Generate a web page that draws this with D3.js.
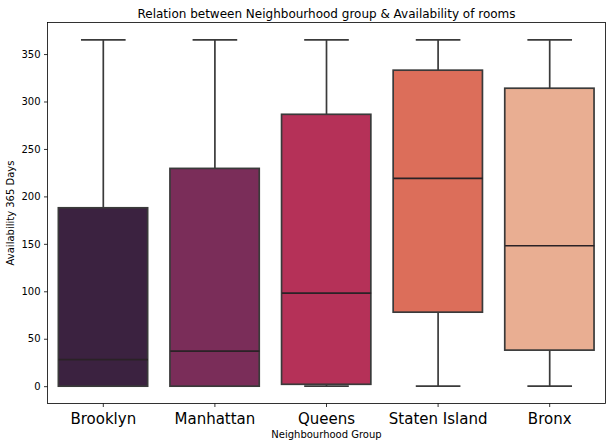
<!DOCTYPE html>
<html><head><meta charset="utf-8">
<script src="https://cdnjs.cloudflare.com/ajax/libs/d3/7.8.5/d3.min.js"></script>
<style>html,body{margin:0;padding:0;background:#fff}svg{display:block}text{font-family:"DejaVu Sans",sans-serif;fill:#000}</style>
</head><body><svg id="c" width="612" height="446"></svg>
<script>
const categories=["Brooklyn","Manhattan","Queens","Staten Island","Bronx"];
const whiskerLow=[0,0,0,0,0];
const q1=[0,0,2,78,38];
const median=[28,37,98,219,148];
const q3=[188,229.5,286.5,333,314];
const whiskerHigh=[365,365,365,365,365];
const colors=["#3b2240","#7a2d59","#b53158","#dc6e5a","#e9ae92"];
const yTicks=[0,50,100,150,200,250,300,350];
const edge="#3a3a3a";
const lw=1.7;
const svg=d3.select("#c");
const L=47.5,R=605.5,T=22.5,B=403.5;
const x=d3.scaleBand().domain(categories).range([L,R]);
const y=d3.scaleLinear().domain([-18.25,383.25]).range([B,T]);
const boxW=x.bandwidth()*0.8, capW=boxW*0.5;
const g=svg.selectAll("g.box").data(categories).join("g").attr("class","box");
const cx=c=>x(c)+x.bandwidth()/2;
const line=(sel,x1,x2,y1,y2,w)=>sel.append("line").attr("x1",x1).attr("x2",x2).attr("y1",y1).attr("y2",y2).attr("stroke",edge).attr("stroke-width",w);
g.each(function(c,i){
  const s=d3.select(this),m=cx(c);
  line(s,m,m,y(q3[i]),y(whiskerHigh[i]),lw);
  line(s,m,m,y(q1[i]),y(whiskerLow[i]),lw);
  line(s,m-capW/2,m+capW/2,y(whiskerHigh[i]),y(whiskerHigh[i]),lw);
  line(s,m-capW/2,m+capW/2,y(whiskerLow[i]),y(whiskerLow[i]),lw);
  s.append("rect").attr("x",m-boxW/2-0.3).attr("width",boxW).attr("y",y(q3[i])).attr("height",y(q1[i])-y(q3[i])).attr("fill",colors[i]).attr("stroke",edge).attr("stroke-width",lw);
  line(s,m-boxW/2,m+boxW/2,y(median[i]),y(median[i]),lw).attr("stroke","#2a2226");
});
const ax=svg.append("g").attr("transform",`translate(0,${B})`).call(d3.axisBottom(x).tickSize(3.5).tickPadding(6));
ax.selectAll("text").style("font-size","15px").attr("fill","#000");
const ay=svg.append("g").attr("transform",`translate(${L},0)`).call(d3.axisLeft(y).tickValues(yTicks).tickSize(3.5).tickPadding(3.5));
ay.selectAll("text").style("font-size","10px").attr("fill","#000");
[ax,ay].forEach(a=>{a.select(".domain").remove();a.selectAll("line").attr("stroke","#000").attr("stroke-width",0.8)});
svg.append("rect").attr("x",L).attr("y",T).attr("width",R-L).attr("height",B-T).attr("fill","none").attr("stroke","#000").attr("stroke-width",0.8);
svg.append("text").attr("x",(L+R)/2).attr("y",17.5).attr("text-anchor","middle").style("font-size","12px").text("Relation between Neighbourhood group & Availability of rooms");
svg.append("text").attr("x",(L+R)/2).attr("y",438).attr("text-anchor","middle").style("font-size","10px").text("Neighbourhood Group");
svg.append("text").attr("transform",`translate(14,${(T+B)/2}) rotate(-90)`).attr("text-anchor","middle").style("font-size","10px").text("Availability 365 Days");
</script></body></html>
